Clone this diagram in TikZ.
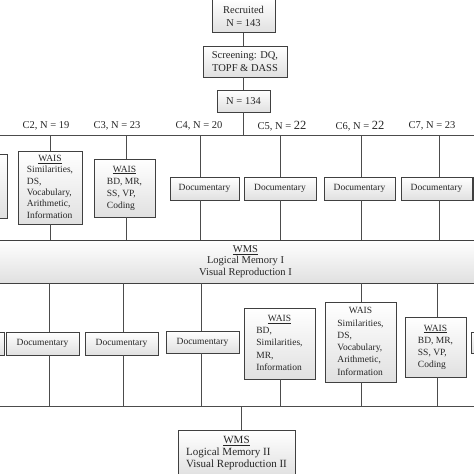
\documentclass[tikz,border=0pt]{standalone}
\usepackage{fontspec}
\setmainfont{Liberation Serif}
\newcommand{\mywtab}[2]{\begin{tabular}{@{}l@{}}\multicolumn{1}{@{}c@{}}{#1}\\#2\end{tabular}}
\tikzset{
  box/.style={draw=black!75, line width=0.8pt, top color=white, bottom color=black!12,
    inner sep=0pt, text=black!85, align=center},
  docbox/.style={box, minimum height=23pt, font=\fontsize{9.5}{11}\selectfont},
  waisbox/.style={box, font=\fontsize{9.5}{12.3}\selectfont},
  topbox/.style={box, font=\fontsize{10.5}{13}\selectfont},
  conn/.style={draw=black!70, line width=0.8pt},
  lbl/.style={font=\fontsize{10.5}{12}\selectfont, text=black!85, inner sep=0pt}
}
\begin{document}
\begin{tikzpicture}[x=1pt,y=-1pt]
\useasboundingbox (0,0) rectangle (474,474);
% top chain
\node[topbox, minimum width=63pt, minimum height=33pt] (rec) at (243.5,16) {Recruited\\N = 143};
\node[topbox, minimum width=84pt, minimum height=31pt] (scr) at (245,61.5) {Screening: DQ,\\TOPF \& DASS};
\node[topbox, minimum width=53pt, minimum height=22pt] (n134) at (243.5,101) {N = 134};
\draw[conn] (rec.south) -- (rec.south |- scr.north);
\draw[conn] (scr.south -| rec.south) -- (rec.south |- n134.north);
% top line
\coordinate (TL) at (-5,135);
\coordinate (TR) at (479,135);
\draw[conn] (TL) -- (TR);
\draw[conn] (n134.south) -- (n134.south |- TL);
% labels
\node[lbl] (l2) at (46,126) {C2, N = 19};
\node[lbl] (l3) at (117,126) {C3, N = 23};
\node[lbl] (l4) at (199,126) {C4, N = 20};
\node[lbl] (l5) at (282,126) {C5, N = {\fontsize{12.5}{12}\selectfont 22}};
\node[lbl] (l6) at (360,126) {C6, N = {\fontsize{12.5}{12}\selectfont 22}};
\node[lbl] (l7) at (432,126) {C7, N = 23};
% WMS I band
\node[box, minimum width=520pt, minimum height=43pt, font=\fontsize{10.5}{11.6}\selectfont] (wms1) at (245.5,261.5)
  {\underline{WMS}\\Logical Memory I\\Visual Reproduction I};
% top boxes
\node[box, minimum width=57pt, minimum height=64pt] (pl1) at (-21.5,186) {};
\node[box, minimum width=67pt, minimum height=23pt] (pr1) at (506.5,188.5) {};
\node[waisbox, minimum width=64pt, minimum height=73pt, font=\fontsize{9.5}{11.4}\selectfont] (tw2) at (50,187.5)
  {\mywtab{\underline{WAIS}}{Similarities,\\DS,\\Vocabulary,\\Arithmetic,\\Information}};
\node[waisbox, minimum width=61pt, minimum height=58pt] (tw3) at (124.5,188)
  {\mywtab{\underline{WAIS}}{BD, MR,\\SS, VP,\\Coding}};
\node[docbox, minimum width=69pt] (td4) at (204.5,188.5) {Documentary};
\node[docbox, minimum width=72pt] (td5) at (280,188.5) {Documentary};
\node[docbox, minimum width=71pt] (td6) at (359.5,188.5) {Documentary};
\node[docbox, minimum width=71pt] (td7) at (436.5,188.5) {Documentary};
% top verticals
\coordinate (a2) at (50,135);
\coordinate (a3) at (126,135);
\coordinate (a4) at (200,135);
\coordinate (a5) at (280,135);
\coordinate (a6) at (361,135);
\coordinate (a7) at (439,135);
\draw[conn] (a2) -- (a2 |- tw2.north);
\draw[conn] (tw2.south -| a2) -- (a2 |- wms1.north);
\draw[conn] (a3) -- (a3 |- tw3.north);
\draw[conn] (tw3.south -| a3) -- (a3 |- wms1.north);
\draw[conn] (a4) -- (a4 |- td4.north);
\draw[conn] (td4.south -| a4) -- (a4 |- wms1.north);
\draw[conn] (a5) -- (a5 |- td5.north);
\draw[conn] (td5.south -| a5) -- (a5 |- wms1.north);
\draw[conn] (a6) -- (a6 |- td6.north);
\draw[conn] (td6.south -| a6) -- (a6 |- wms1.north);
\draw[conn] (a7) -- (a7 |- td7.north);
\draw[conn] (td7.south -| a7) -- (a7 |- wms1.north);
% bottom boxes
\node[box, minimum width=44pt, minimum height=23pt] (pl2) at (-18,343.5) {};
\node[box, minimum width=69pt, minimum height=21pt] (pr2) at (505.5,342.5) {};
\node[docbox, minimum width=73pt] (bd2) at (42.5,343.5) {Documentary};
\node[docbox, minimum width=73pt] (bd3) at (121.5,343.5) {Documentary};
\node[docbox, minimum width=73pt, minimum height=22pt] (bd4) at (202.5,342) {Documentary};
\node[waisbox, minimum width=71pt, minimum height=71pt] (bw5) at (279.5,343.5)
  {\mywtab{\underline{WAIS}}{BD,\\Similarities,\\MR,\\Information}};
\node[waisbox, minimum width=71pt, minimum height=80pt] (bw6) at (360.5,342)
  {\mywtab{WAIS}{Similarities,\\DS,\\Vocabulary,\\Arithmetic,\\Information}};
\node[waisbox, minimum width=61pt, minimum height=60pt] (bw7) at (435.5,347)
  {\mywtab{\underline{WAIS}}{BD, MR,\\SS, VP,\\Coding}};
% bottom line
\coordinate (BL) at (-5,406);
\coordinate (BR) at (479,406);
\draw[conn] (BL) -- (BR);
\coordinate (b2) at (49,406);
\coordinate (b3) at (123,406);
\coordinate (b4) at (201,406);
\coordinate (b5) at (280,406);
\coordinate (b6) at (361,406);
\coordinate (b7) at (437,406);
\draw[conn] (wms1.south -| b2) -- (b2 |- bd2.north);
\draw[conn] (bd2.south -| b2) -- (b2);
\draw[conn] (wms1.south -| b3) -- (b3 |- bd3.north);
\draw[conn] (bd3.south -| b3) -- (b3);
\draw[conn] (wms1.south -| b4) -- (b4 |- bd4.north);
\draw[conn] (bd4.south -| b4) -- (b4);
\draw[conn] (bw5.south -| b5) -- (b5);
\draw[conn] (wms1.south -| b6) -- (b6 |- bw6.north);
\draw[conn] (bw6.south -| b6) -- (b6);
\draw[conn] (wms1.south -| b7) -- (b7 |- bw7.north);
\draw[conn] (bw7.south -| b7) -- (b7);
% WMS II
\node[box, minimum width=117pt, minimum height=46pt, font=\fontsize{11}{12}\selectfont] (wms2) at (236.5,453)
  {\mywtab{\underline{WMS}}{Logical Memory II\\Visual Reproduction II}};
\coordinate (d) at (241,406);
\draw[conn] (d) -- (d |- wms2.north);
\end{tikzpicture}
\end{document}
